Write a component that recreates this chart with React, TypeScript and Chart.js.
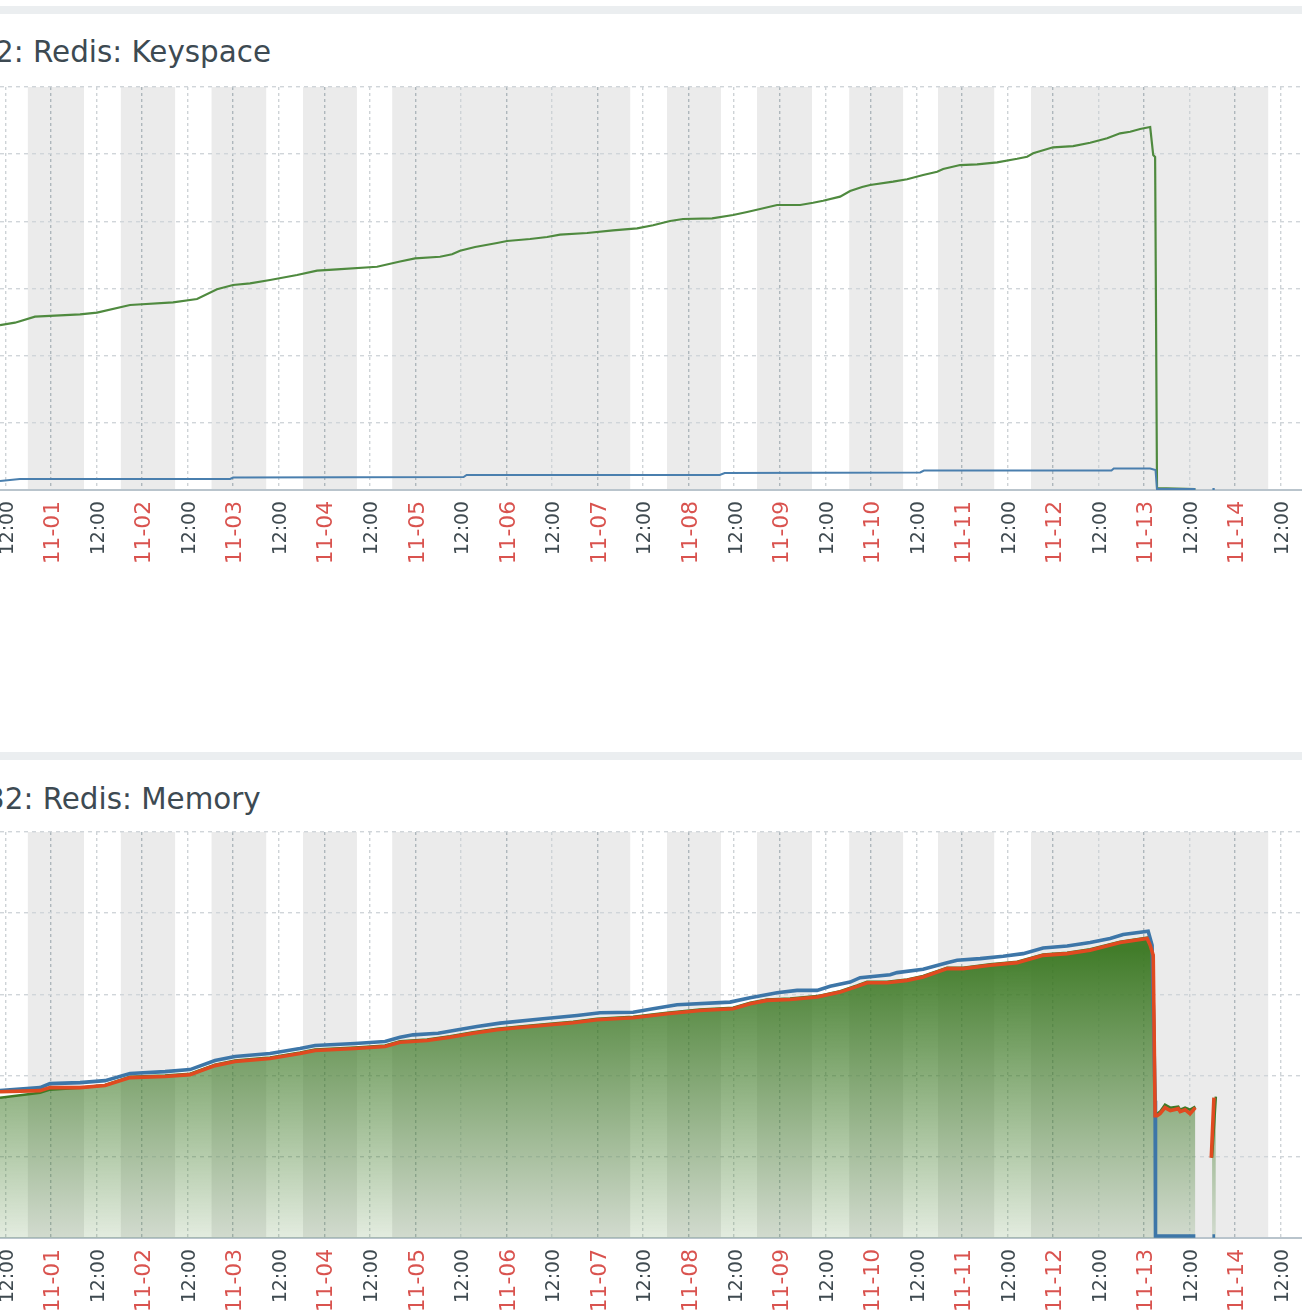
import React, { useEffect, useRef } from 'react';
import Chart from 'chart.js/auto';

// x values are hours counted from 11-01 00:00
const dateLabels = ['11-01', '11-02', '11-03', '11-04', '11-05', '11-06', '11-07', '11-08', '11-09', '11-10', '11-11', '11-12', '11-13', '11-14'];
const noonLabel = '12:00';
const bandStarts = [-6.1, 18.4, 42.3, 66.4, 89.9, 162.3, 186, 210.3, 233.7, 258.2];
const bandEnds = [8.7, 32.7, 56.7, 80.6, 152.6, 176.5, 200.5, 224.5, 248.5, 320.7];

const keyspaceGreenHours = [-13.44, -9.49, -4.22, 7.64, 12.12, 20.82, 32.15, 38.47, 43.74, 47.96, 52.44, 57.71, 64.82, 70.09, 75.36, 85.9, 91.96, 95.92, 102.5, 105.66, 107.77, 111.73, 117.52, 120.16, 126.22, 130.7, 134.12, 141.24, 148.09, 154.41, 158.63, 163.11, 166.53, 174.18, 179.71, 183.4, 186.82, 191.3, 197.37, 200.79, 203.43, 207.9, 210.54, 213.7, 215.81, 221.87, 225.56, 229.78, 233.47, 235.05, 239.53, 244, 249.28, 254.55, 257.18, 258.76, 264.03, 269.3, 273.78, 278.26, 281.69, 284.32, 286.96, 289.6, 290.4, 290.9, 291.4, 301.5];
const keyspaceGreen = [2.456, 2.491, 2.58, 2.616, 2.64, 2.754, 2.794, 2.844, 2.988, 3.052, 3.077, 3.126, 3.201, 3.265, 3.286, 3.324, 3.402, 3.449, 3.473, 3.509, 3.563, 3.618, 3.677, 3.707, 3.737, 3.767, 3.801, 3.826, 3.866, 3.896, 3.941, 4.005, 4.035, 4.045, 4.094, 4.139, 4.183, 4.243, 4.243, 4.277, 4.307, 4.367, 4.451, 4.511, 4.541, 4.59, 4.626, 4.69, 4.739, 4.779, 4.838, 4.849, 4.879, 4.932, 4.962, 5.013, 5.102, 5.121, 5.17, 5.236, 5.31, 5.334, 5.374, 5.404, 4.987, 4.958, 0.03, 0.015];
const keyspaceBlueHours = [-13.44, -8.2, 47.2, 48, 108.7, 109.5, 176.2, 177.5, 229, 230, 279.4, 280, 289.6, 291, 291.4, 301.5, 303, 306, 306.6];
const keyspaceBlue = [0.134, 0.164, 0.164, 0.186, 0.194, 0.223, 0.223, 0.253, 0.261, 0.29, 0.29, 0.32, 0.32, 0.298, 0.015, 0.015, null, 0.015, 0.015];

const memoryHours = [-13.44, -2.9, -0.26, 7.64, 14.23, 20.82, 30.04, 36.63, 43.21, 48.48, 57.71, 65.61, 69.57, 80.11, 88.01, 91.96, 99.08, 105.14, 111.2, 117.52, 122.79, 131.49, 137.55, 143.87, 153.36, 162.32, 171.01, 179.71, 184.19, 188.67, 194.73, 201.84, 207.9, 212.38, 215.02, 220.29, 225.56, 229.78, 236.1, 240.32, 247.44, 254.55, 261.4, 267.72, 273.78, 281.69, 288.8];
const memoryRed = [1.802, 1.815, 1.852, 1.852, 1.877, 1.975, 1.988, 2.012, 2.123, 2.173, 2.21, 2.272, 2.309, 2.333, 2.358, 2.411, 2.432, 2.473, 2.522, 2.564, 2.589, 2.626, 2.651, 2.688, 2.712, 2.762, 2.802, 2.823, 2.885, 2.926, 2.938, 2.967, 3.028, 3.099, 3.144, 3.144, 3.173, 3.214, 3.317, 3.317, 3.358, 3.391, 3.481, 3.502, 3.543, 3.638, 3.688];
const memoryGreen = [1.728, 1.79, 1.827, 1.85, 1.885, 1.985, 2, 2.024, 2.135, 2.185, 2.222, 2.284, 2.321, 2.345, 2.37, 2.423, 2.444, 2.485, 2.534, 2.576, 2.601, 2.638, 2.663, 2.7, 2.724, 2.774, 2.814, 2.835, 2.897, 2.938, 2.95, 2.979, 3.04, 3.111, 3.156, 3.156, 3.185, 3.226, 3.329, 3.329, 3.37, 3.403, 3.493, 3.514, 3.555, 3.65, 3.7];
const memoryBlueHours = [-13.44, -2.9, -0.26, 7.64, 14.23, 20.82, 30.04, 36.63, 43.21, 48.48, 57.71, 65.61, 69.57, 80.11, 88.01, 91.96, 95.39, 101.98, 107.25, 112.25, 118.31, 129.64, 138.6, 144.66, 153.36, 158.63, 164.95, 178.91, 184.19, 191.3, 196.57, 201.84, 205.27, 210.54, 213.18, 221.08, 222.92, 229.78, 236.1, 238.74, 244.8, 250.86, 256.13, 261.4, 267.72, 273.78, 279.05, 282.48, 289.07];
const memoryBlue = [1.815, 1.852, 1.901, 1.914, 1.938, 2.025, 2.049, 2.074, 2.185, 2.235, 2.272, 2.333, 2.37, 2.395, 2.42, 2.473, 2.502, 2.522, 2.564, 2.605, 2.646, 2.7, 2.741, 2.774, 2.781, 2.823, 2.873, 2.905, 2.959, 3.021, 3.049, 3.049, 3.099, 3.152, 3.206, 3.243, 3.268, 3.309, 3.391, 3.42, 3.441, 3.469, 3.502, 3.572, 3.596, 3.638, 3.688, 3.737, 3.778];

const redTailHours = [289.6, 290.4, 290.9, 291.4, 292.2, 293.5, 294.9, 297, 297.5, 298.8, 300.1, 301.5, 303, 305.7, 306.4];
const redTail = [3.605, 3.481, 1.506, 1.506, 1.531, 1.605, 1.568, 1.593, 1.556, 1.58, 1.531, 1.605, null, 0.988, 1.728];
const greenTailHours = [289.6, 290.4, 290.9, 291.4, 292.2, 293.5, 294.9, 297, 297.5, 298.8, 300.1, 301.5, 303, 305.9, 306.9];
const greenTail = [3.605, 3.481, 1.55, 1.531, 1.556, 1.642, 1.605, 1.617, 1.58, 1.605, 1.58, 1.617, null, 0.988, 1.741];
const blueTailHours = [290.1, 290.9, 291, 301.5, 303, 306, 306.7];
const blueTail = [3.605, 1.691, 0.025, 0.025, null, 0.025, 0.025];

const toPoints = (hours: number[], values: (number | null)[]) => hours.map((h, i) => ({ x: h, y: values[i] }));

const FONT = "'DejaVu Sans', sans-serif";

const isDateTick = (value: number) => value % 24 === 0;

// gray working-time bands, behind the grid
const bandsPlugin = {
  id: 'bands',
  beforeDraw(chart: any) {
    const { ctx, chartArea, scales } = chart;
    ctx.save();
    ctx.fillStyle = '#ebebeb';
    bandStarts.forEach((start, i) => {
      const left = scales.x.getPixelForValue(start);
      const right = scales.x.getPixelForValue(bandEnds[i]);
      ctx.fillRect(left, chartArea.top, right - left, chartArea.bottom - chartArea.top);
    });
    ctx.restore();
  },
};

const areaGradient = (c: any) => {
  const { chart } = c;
  if (!chart.chartArea) return 'transparent';
  const y = chart.scales.y;
  const g = chart.ctx.createLinearGradient(0, y.getPixelForValue(0), 0, y.getPixelForValue(3.55));
  g.addColorStop(0, 'rgba(62,122,38,0.145)');
  g.addColorStop(1, 'rgba(62,122,38,0.98)');
  return g;
};

const buildOptions = (yMax: number) => ({
  responsive: false,
  maintainAspectRatio: false,
  animation: false,
  layout: { padding: { top: 7, left: 0, right: 0, bottom: 0 } },
  plugins: { legend: { display: false }, tooltip: { enabled: false }, title: { display: false } },
  elements: { point: { radius: 0 }, line: { tension: 0 } },
  scales: {
    x: {
      type: 'linear',
      min: -13.44,
      max: 329.6,
      afterFit: (s: any) => {
        s.height = 79;
        s.paddingLeft = 0;
        s.paddingRight = 0;
      },
      border: { display: true, color: '#b9c4cc', width: 2, dash: [3, 3] },
      grid: {
        drawTicks: false,
        lineWidth: 1.4,
        color: (c: any) => (c.tick && isDateTick(c.tick.value) ? '#aeb7bc' : '#ced3d6'),
      },
      ticks: {
        stepSize: 12,
        includeBounds: false,
        autoSkip: false,
        minRotation: 90,
        maxRotation: 90,
        padding: 11,
        labelOffset: 2.5,
        color: (c: any) => (isDateTick(c.tick.value) ? '#d9534f' : '#3f4a50'),
        font: (c: any) => ({ family: FONT, size: c.tick && isDateTick(c.tick.value) ? 21.8 : 18.8 }),
        callback: (v: any) => (isDateTick(v) ? dateLabels[v / 24] : noonLabel),
      },
    },
    y: {
      min: 0,
      max: yMax,
      afterFit: (s: any) => {
        s.width = 0;
      },
      border: { display: false, dash: [4, 4] },
      grid: { drawTicks: false, color: '#d0d5d9', lineWidth: 1.4 },
      ticks: { display: false, stepSize: 1 },
    },
  },
});

const keyspaceDatasets = () => [
  { data: toPoints(keyspaceBlueHours, keyspaceBlue), borderColor: '#4a7fae', borderWidth: 2 },
  { data: toPoints(keyspaceGreenHours, keyspaceGreen), borderColor: '#4f8a3f', borderWidth: 2.2 },
];

const memoryDatasets = () => [
  {
    data: [...toPoints(memoryHours, memoryRed), ...toPoints(redTailHours, redTail)],
    borderColor: '#e04a20',
    borderWidth: 3.6,
  },
  {
    data: [...toPoints(memoryBlueHours, memoryBlue), ...toPoints(blueTailHours, blueTail)],
    borderColor: '#3d76a8',
    borderWidth: 3.6,
  },
  {
    data: [...toPoints(memoryHours, memoryGreen), ...toPoints(greenTailHours, greenTail)],
    borderColor: '#3f7a26',
    borderWidth: 2.5,
    fill: 'origin',
    backgroundColor: areaGradient,
  },
];

const Graph = ({ top, height, yMax, datasets }: any) => {
  const canvasRef = useRef<HTMLCanvasElement>(null);

  useEffect(() => {
    const chart = new Chart(canvasRef.current as HTMLCanvasElement, {
      type: 'line',
      data: { datasets: datasets() },
      options: buildOptions(yMax) as any,
      plugins: [bandsPlugin],
    });
    return () => chart.destroy();
  }, []);

  return <canvas ref={canvasRef} width={1302} height={height} style={{ position: 'absolute', left: 0, top, display: 'block' }} />;
};

const titleStyle: React.CSSProperties = {
  position: 'absolute',
  fontFamily: FONT,
  fontSize: 29.4,
  lineHeight: '36px',
  color: '#3d4a52',
  whiteSpace: 'nowrap',
};

const barStyle: React.CSSProperties = { position: 'absolute', left: 0, width: 1302, height: 8, background: '#ebeef0' };

export default function App() {
  return (
    <div style={{ position: 'fixed', left: 0, top: 0, width: 1302, height: 1316, overflow: 'hidden', background: '#fff', filter: 'blur(0.5px)' }}>
      <div style={{ ...barStyle, top: 6 }} />
      <div style={{ ...titleStyle, left: -5, top: 34 }}>2: Redis: Keyspace</div>
      <Graph top={80} height={489} yMax={6} datasets={keyspaceDatasets} />
      <div style={{ ...barStyle, top: 752 }} />
      <div style={{ ...titleStyle, left: -14, top: 781 }}>32: Redis: Memory</div>
      <Graph top={825} height={492} yMax={5} datasets={memoryDatasets} />
    </div>
  );
}
